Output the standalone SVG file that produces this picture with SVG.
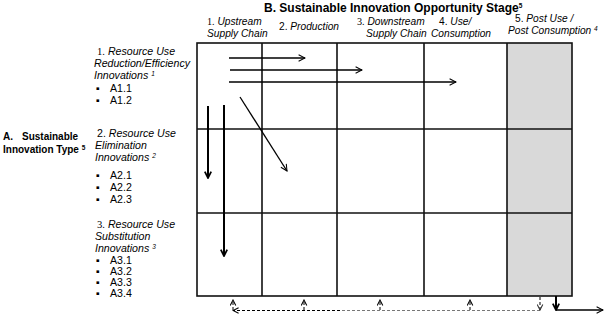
<svg xmlns="http://www.w3.org/2000/svg" width="610" height="315" viewBox="0 0 610 315">
<defs>
<marker id="open" viewBox="0 0 10 10" refX="9" refY="5" markerWidth="8" markerHeight="8" markerUnits="userSpaceOnUse" orient="auto"><path d="M1,1 L9,5 L1,9" fill="none" stroke="#000" stroke-width="1.3"/></marker>
<marker id="bold" viewBox="0 0 10 10" refX="9" refY="5" markerWidth="8" markerHeight="8" markerUnits="userSpaceOnUse" orient="auto"><path d="M1,1 L9,5 L1,9" fill="none" stroke="#000" stroke-width="2.2"/></marker>
<marker id="dash" viewBox="0 0 10 10" refX="9" refY="5" markerWidth="7" markerHeight="7" markerUnits="userSpaceOnUse" orient="auto"><path d="M1,1 L9,5 L1,9" fill="none" stroke="#000" stroke-width="1.5"/></marker>
<marker id="dashg" viewBox="0 0 10 10" refX="9" refY="5" markerWidth="7" markerHeight="7" markerUnits="userSpaceOnUse" orient="auto"><path d="M1,1 L9,5 L1,9" fill="none" stroke="#333" stroke-width="1.5"/></marker>
</defs>
<style>
text{font-family:"Liberation Sans",Arial,sans-serif;font-size:10.5px;fill:#000}
.h{font-size:10.2px}
.b{font-weight:bold}
.t{font-size:12px}
.l{font-size:10.6px}
.a{font-size:10px}
.i{font-style:italic}
.s{font-family:"Liberation Serif","Times New Roman",serif;font-style:normal}
.sup{font-size:6.5px}
.grid{fill:none;stroke:#111;stroke-width:1.6}
.ln{stroke:#000;stroke-width:1.3;fill:none}
.th{stroke:#000;stroke-width:2;fill:none}
.dk{stroke:#000;stroke-width:1;stroke-dasharray:3,2;fill:none}
.dg{stroke:#777;stroke-width:1;stroke-dasharray:3,2;fill:none}
</style>
<rect width="610" height="315" fill="#fff"/>

<g id="grid">
<rect x="507" y="43" width="65" height="253" fill="#d9d9d9"/>
<rect class="grid" x="197" y="43" width="375" height="253"/>
<line class="grid" x1="262" y1="43" x2="262" y2="296"/>
<line class="grid" x1="337" y1="43" x2="337" y2="296"/>
<line class="grid" x1="424" y1="43" x2="424" y2="296"/>
<line class="grid" x1="507" y1="43" x2="507" y2="296"/>
<line class="grid" x1="197" y1="129" x2="572" y2="129"/>
<line class="grid" x1="197" y1="213" x2="572" y2="213"/>
</g>

<g id="title"><text class="b t" x="264" y="12">B. Sustainable Innovation Opportunity Stage<tspan class="sup" dy="-4">5</tspan></text></g>

<g id="col1"><text class="h" x="207" y="25"><tspan class="s">1.</tspan> <tspan class="i">Upstream</tspan></text><text class="h i" x="207" y="37">Supply Chain</text></g>
<g id="col2"><text class="h" x="279" y="30">2. <tspan class="i">Production</tspan></text></g>
<g id="col3"><text class="h" x="357" y="25"><tspan class="s">3.</tspan> <tspan class="i">Downstream</tspan></text><text class="h i" x="366" y="37">Supply Chain</text></g>
<g id="col4"><text class="h" x="439" y="25">4. <tspan class="i">Use/</tspan></text><text class="h i" x="431" y="37">Consumption</text></g>
<g id="col5"><text class="h" x="515" y="22">5. <tspan class="i">Post Use /</tspan></text><text class="h i" x="508" y="34">Post Consumption <tspan class="sup" dy="-3">4</tspan></text></g>

<g id="typeA"><text class="b a" x="3" y="140">A.<tspan x="22">Sustainable</tspan></text><text class="b a" x="3" y="153">Innovation Type <tspan class="sup" dy="-3">5</tspan></text></g>

<g id="row1">
<text class="l" x="97" y="55"><tspan class="s">1.</tspan> <tspan class="i">Resource Use</tspan></text>
<text class="l i" x="94" y="67">Reduction/Efficiency</text>
<text class="l i" x="94" y="79">Innovations <tspan class="sup" dy="-3">1</tspan></text>
<text class="l" x="96" y="92">▪</text><text class="l" x="110" y="92">A1.1</text>
<text class="l" x="96" y="104">▪</text><text class="l" x="110" y="104">A1.2</text>
</g>
<g id="row2">
<text class="l" x="97" y="137">2. <tspan class="i">Resource Use</tspan></text>
<text class="l i" x="95" y="149">Elimination</text>
<text class="l i" x="95" y="161">Innovations <tspan class="sup" dy="-3">2</tspan></text>
<text class="l" x="96" y="179">▪</text><text class="l" x="110" y="179">A2.1</text>
<text class="l" x="96" y="191">▪</text><text class="l" x="110" y="191">A2.2</text>
<text class="l" x="96" y="203">▪</text><text class="l" x="110" y="203">A2.3</text>
</g>
<g id="row3">
<text class="l" x="97" y="228"><tspan class="s">3.</tspan> <tspan class="i">Resource Use</tspan></text>
<text class="l i" x="95" y="240">Substitution</text>
<text class="l i" x="95" y="252">Innovations <tspan class="sup" dy="-3">3</tspan></text>
<text class="l" x="96" y="264">▪</text><text class="l" x="110" y="264">A3.1</text>
<text class="l" x="96" y="275">▪</text><text class="l" x="110" y="275">A3.2</text>
<text class="l" x="96" y="286">▪</text><text class="l" x="110" y="286">A3.3</text>
<text class="l" x="96" y="297">▪</text><text class="l" x="110" y="297">A3.4</text>
</g>

<g id="connectors">
<line class="ln" x1="229" y1="58" x2="305" y2="58" marker-end="url(#open)"/>
<line class="ln" x1="230" y1="70" x2="362" y2="70" marker-end="url(#open)"/>
<line class="ln" x1="229" y1="82" x2="456" y2="82" marker-end="url(#open)"/>
<line class="ln" x1="240" y1="97" x2="287" y2="171" marker-end="url(#open)"/>
<line class="th" x1="208" y1="106" x2="208" y2="178" marker-end="url(#bold)"/>
<line class="th" x1="224" y1="105" x2="224" y2="256" marker-end="url(#bold)"/>
<line class="dk" x1="233" y1="310" x2="233" y2="300" marker-end="url(#dash)"/>
<line class="dk" x1="304" y1="310" x2="304" y2="300" marker-end="url(#dash)"/>
<line class="dk" x1="380" y1="310" x2="380" y2="300" marker-end="url(#dash)"/>
<line class="dk" x1="470" y1="310" x2="470" y2="300" marker-end="url(#dash)"/>
<line class="dg" x1="540" y1="310.5" x2="340" y2="310.5"/>
<line class="dk" x1="340" y1="310.5" x2="233" y2="310.5" marker-end="url(#dash)"/>
<line class="dk" x1="540" y1="297" x2="540" y2="310" marker-end="url(#dashg)"/>
<line class="th" x1="556" y1="296" x2="556" y2="310" marker-end="url(#bold)"/>
<line class="ln" x1="556" y1="310" x2="603" y2="310" marker-end="url(#open)"/>
</g>
</svg>
